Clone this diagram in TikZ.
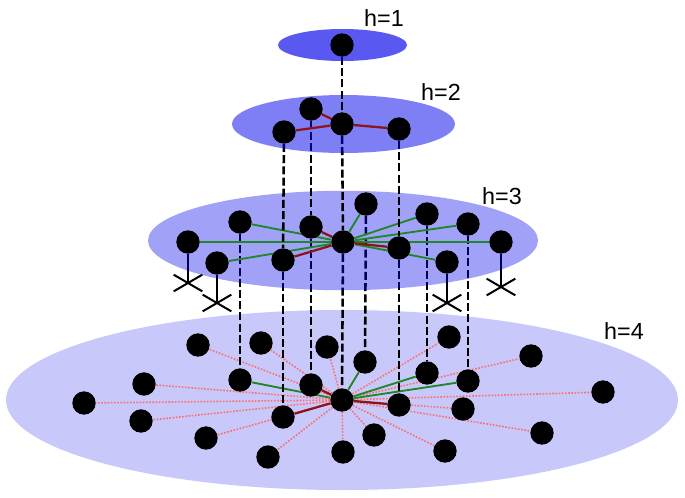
\documentclass[tikz,border=0pt]{standalone}
\usepackage{fontspec}
\setmainfont{Liberation Sans}
\usetikzlibrary{shapes.misc}
\definecolor{ebl}{RGB}{0,0,235}
\definecolor{efour}{RGB}{200,200,250}
\definecolor{dred}{RGB}{140,20,25}
\definecolor{gedge}{RGB}{30,135,40}
\definecolor{lred}{RGB}{255,110,110}
\pgfdeclarelayer{ellfour}
\pgfdeclarelayer{edgefour}
\pgfdeclarelayer{vthree}
\pgfdeclarelayer{ellthree}
\pgfdeclarelayer{edgethree}
\pgfdeclarelayer{vtwo}
\pgfdeclarelayer{elltwo}
\pgfdeclarelayer{edgetwo}
\pgfdeclarelayer{vone}
\pgfdeclarelayer{ellone}
\pgfsetlayers{ellfour,edgefour,vthree,ellthree,edgethree,vtwo,elltwo,edgetwo,vone,ellone,main}
\begin{document}
\begin{tikzpicture}[x=0.75pt,y=-0.75pt,
  dot/.style={circle,fill=black,inner sep=0pt,minimum size=17.5pt},
  xmark/.style={cross out,draw=black,line width=1.5pt,inner sep=0pt,minimum width=20pt,minimum height=11pt},
  vdash/.style={draw=black,line width=1.9pt,dash pattern=on 6pt off 2.4pt},
  stub/.style={draw=black,line width=1.5pt},
  redge/.style={draw=dred,line width=1.7pt},
  gline/.style={draw=gedge,line width=1.4pt},
  pline/.style={draw=lred,line width=1.2pt,dash pattern=on 1.2pt off 1.2pt},
  lab/.style={font=\fontsize{17.5pt}{20pt}\selectfont,inner sep=0pt}]
\useasboundingbox (0,0) rectangle (685,497);
% ellipses
\begin{pgfonlayer}{ellfour}
\fill[efour] (342,400) ellipse [x radius=252pt, y radius=67.5pt];
\end{pgfonlayer}
\begin{pgfonlayer}{ellthree}
\fill[ebl,fill opacity=0.37] (343,240.5) ellipse [x radius=146.25pt, y radius=37.3pt];
\end{pgfonlayer}
\begin{pgfonlayer}{elltwo}
\fill[ebl,fill opacity=0.5] (343.5,124) ellipse [x radius=83.6pt, y radius=21.75pt];
\end{pgfonlayer}
\begin{pgfonlayer}{ellone}
\fill[ebl,fill opacity=0.65] (342.5,45) ellipse [x radius=48.4pt, y radius=12pt];
\end{pgfonlayer}
% labels
\node[lab] (h1) at (384,18) {h=1};
\node[lab] (h2) at (441,92) {h=2};
\node[lab] (h3) at (502,196) {h=3};
\node[lab] (h4) at (624,331) {h=4};
% nodes
\node[dot] (a) at (342,45) {};
\foreach \n/\x/\y in {b0/342/124,b1/311/109,b2/284/132,b3/399/129}
  \node[dot] (\n) at (\x,\y) {};
\foreach \n/\x/\y in {c0/343/242,c1/311/227,c2/283/260,c3/399/248,c4/366/204,c5/240/222,
  c6/427/214,c7/468/224,c8/188/242,c9/217/263,c10/447/262,c11/501/242}
  \node[dot] (\n) at (\x,\y) {};
\foreach \n/\x/\y in {d0/342/400,d1/311/385,d2/283/417,d3/399/405,d4/365/362,d5/240/380,
  d6/427/373,d7/468/381}
  \node[dot] (\n) at (\x,\y) {};
\foreach \n/\x/\y in {e1/198/345,e2/261/343,e3/327/347,e4/144/384,e5/84/403,e6/141/421,
  e7/206/438,e8/268/457,e9/343/452,e10/449/337,e11/531/356,e12/603/392,e13/463/409,
  e14/374/435,e15/542/433,e16/445/451}
  \node[dot] (\n) at (\x,\y) {};
% cross marks
\node[xmark] (x8) at (188,283) {};
\node[xmark] (x9) at (217,303) {};
\node[xmark] (x10) at (447,303) {};
\node[xmark] (x11) at (501,287) {};
% level 4 edges
\begin{pgfonlayer}{edgefour}
\foreach \n in {e1,e2,e3,e4,e5,e6,e7,e8,e9,e10,e11,e12,e13,e14,e15,e16}
  \draw[pline] (d0) -- (\n);
\foreach \n in {d4,d5,d6,d7}
  \draw[gline] (d0) -- (\n);
\foreach \n in {d1,d2,d3}
  \draw[redge] (d0) -- (\n);
\end{pgfonlayer}
% verticals level 3 -> 4, stubs
\begin{pgfonlayer}{vthree}
\foreach \i in {0,...,7}
  \draw[vdash] (c\i) -- (d\i);
\foreach \i in {8,9,10,11}
  \draw[stub] (c\i) -- (x\i.center);
\end{pgfonlayer}
% level 3 edges
\begin{pgfonlayer}{edgethree}
\foreach \n in {c4,c5,c6,c7,c8,c9,c10,c11}
  \draw[gline] (c0) -- (\n);
\foreach \n in {c1,c2,c3}
  \draw[redge] (c0) -- (\n);
\end{pgfonlayer}
% verticals level 2 -> 3
\begin{pgfonlayer}{vtwo}
\foreach \i in {0,...,3}
  \draw[vdash] (b\i) -- (c\i);
\end{pgfonlayer}
% level 2 edges
\begin{pgfonlayer}{edgetwo}
\foreach \n in {b1,b2,b3}
  \draw[redge] (b0) -- (\n);
\end{pgfonlayer}
% vertical level 1 -> 2
\begin{pgfonlayer}{vone}
\draw[vdash] (a) -- (b0);
\end{pgfonlayer}
\end{tikzpicture}
\end{document}
